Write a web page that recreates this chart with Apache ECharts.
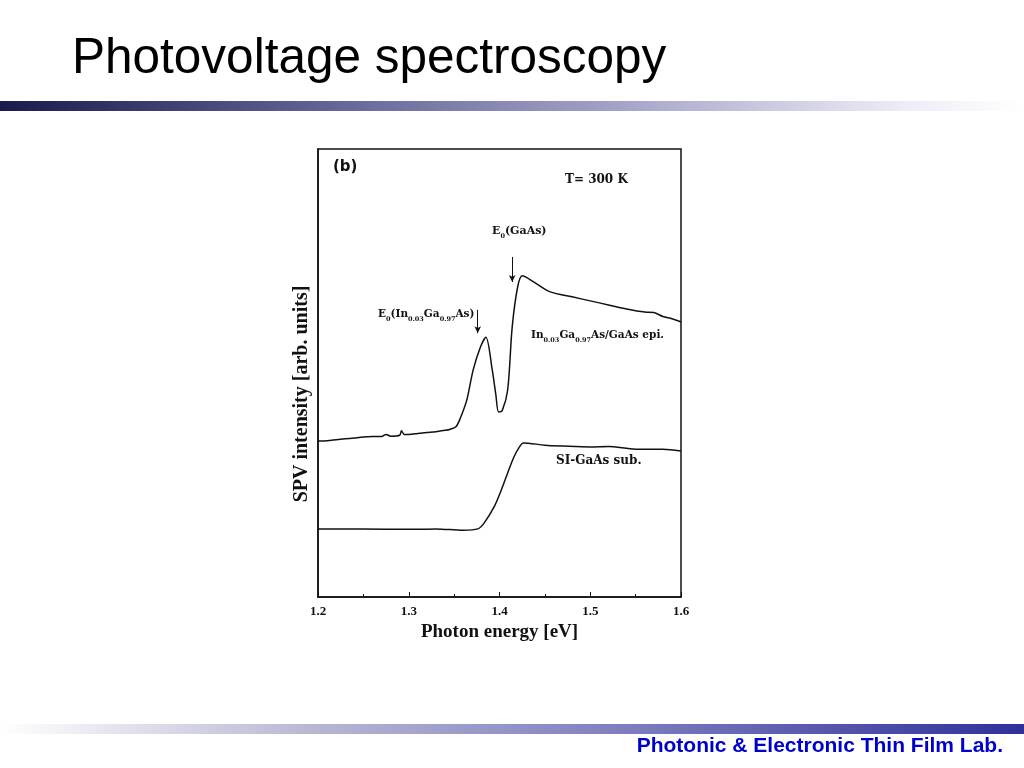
<!DOCTYPE html>
<html>
<head>
<meta charset="utf-8">
<script src="https://cdn.jsdelivr.net/npm/echarts@6/dist/echarts.min.js"></script>
<style>
  html, body { margin: 0; padding: 0; background: #fff; }
  #chart { width: 1024px; height: 768px; }
</style>
</head>
<body>
<div id="chart"></div>
<script>
// photon energy (eV) and SPV intensity (arb. units)
const epiEnergy = [1.200,1.210,1.220,1.230,1.240,1.250,1.260,1.270,1.275,1.280,1.290,1.292,1.295,1.300,1.310,1.320,1.330,1.340,1.345,1.352,1.357,1.364,1.371,1.379,1.385,1.392,1.396,1.399,1.403,1.409,1.414,1.420,1.425,1.438,1.456,1.480,1.500,1.520,1.540,1.560,1.570,1.580,1.590,1.600]
const epiSpv    = [34.8,34.9,35.1,35.3,35.5,35.7,35.8,35.8,36.3,35.9,36.1,37.1,36.3,36.3,36.5,36.7,36.9,37.2,37.4,38.0,40.0,44.0,50.7,55.8,58.0,50.7,45.1,41.3,41.6,46.2,60.3,69.2,71.7,70.3,68.1,67.0,66.1,65.2,64.3,63.6,63.5,62.6,62.1,61.4]

const subEnergy = [1.200,1.250,1.300,1.330,1.360,1.376,1.383,1.394,1.402,1.409,1.416,1.422,1.426,1.450,1.470,1.500,1.520,1.550,1.580,1.600]
const subSpv    = [15.2,15.2,15.1,15.2,14.9,15.2,16.5,20.1,23.9,27.7,31.3,33.5,34.4,33.9,33.7,33.5,33.6,33.0,33.0,32.6]

const xTicks = [1.2, 1.3, 1.4, 1.5, 1.6]

const chart = echarts.init(document.getElementById('chart'))

const serif = 'Liberation Serif'
const labelFont = 'DejaVu Serif'
const zip = (xs, ys) => xs.map((x, i) => [x, ys[i]])

// subscripted labels, main text + small lowered part
const rich = (size) => ({
  m: { fontFamily: labelFont, fontWeight: 'bold', fontSize: size, lineHeight: 16, verticalAlign: 'middle', fill: '#111' },
  s: { fontFamily: labelFont, fontWeight: 'bold', fontSize: 6.5, lineHeight: 16, verticalAlign: 'bottom', fill: '#111' }
})

const option = {
  animation: false,
  backgroundColor: '#fff',
  grid: { left: 318, top: 149, right: 343, bottom: 171, show: true, borderColor: '#111', borderWidth: 1.5 },
  xAxis: {
    type: 'value', min: 1.2, max: 1.6, interval: 0.1,
    name: 'Photon energy [eV]', nameLocation: 'middle', nameGap: 26,
    nameTextStyle: { fontFamily: serif, fontWeight: 'bold', fontSize: 19, color: '#111' },
    axisLine: { lineStyle: { color: '#111', width: 1.5 } },
    axisTick: { inside: true, length: 5, lineStyle: { color: '#111' } },
    minorTick: { show: true, splitNumber: 2, length: 3, lineStyle: { color: '#111' } },
    splitLine: { show: false },
    axisLabel: {
      fontFamily: serif, fontWeight: 'bold', fontSize: 13, color: '#111', margin: 8,
      formatter: v => xTicks.find(t => Math.abs(t - v) < 1e-6).toFixed(1)
    }
  },
  yAxis: {
    type: 'value', min: 0, max: 100,
    axisLine: { lineStyle: { color: '#111', width: 1.5 } },
    axisTick: { show: false }, axisLabel: { show: false }, splitLine: { show: false }
  },
  series: [
    {
      name: 'epi', type: 'line', data: zip(epiEnergy, epiSpv), showSymbol: false, smooth: 0.3,
      lineStyle: { color: '#111', width: 1.5 },
      markLine: {
        silent: true, symbol: ['none', 'arrow'], symbolSize: [5, 7],
        lineStyle: { color: '#111', width: 1, type: 'solid' }, label: { show: false },
        data: [
          [{ coord: [1.414, 75.9] }, { coord: [1.414, 70.3] }],
          [{ coord: [1.376, 64.1] }, { coord: [1.376, 58.9] }]
        ]
      }
    },
    {
      name: 'sub', type: 'line', data: zip(subEnergy, subSpv), showSymbol: false, smooth: 0.3,
      lineStyle: { color: '#111', width: 1.5 }
    }
  ],
  graphic: [
    { type: 'rect', shape: { x: 0, y: 101, width: 1024, height: 10 }, style: { fill: new echarts.graphic.LinearGradient(0, 0, 1, 0, [
      { offset: 0, color: '#1a1a4c' }, { offset: 0.35, color: '#6a6a9c' }, { offset: 0.6, color: '#a2a2c8' }, { offset: 0.88, color: '#ececf6' }, { offset: 1, color: '#ffffff' }]) } },
    { type: 'rect', shape: { x: 0, y: 724, width: 1024, height: 10 }, style: { fill: new echarts.graphic.LinearGradient(0, 0, 1, 0, [
      { offset: 0, color: '#ffffff' }, { offset: 0.3, color: '#b8b8d4' }, { offset: 0.6, color: '#8080c0' }, { offset: 1, color: '#30309c' }]) } },
    { type: 'text', left: 72, top: 34, style: { text: 'Photovoltage spectroscopy', fontFamily: 'Liberation Sans', fontSize: 49.5, fill: '#000' } },
    { type: 'text', right: 21, top: 736, style: { text: 'Photonic & Electronic Thin Film Lab.', fontFamily: 'Liberation Sans', fontWeight: 'bold', fontSize: 21, fill: '#0000cc' } },
    { type: 'text', x: 302, y: 394, rotation: Math.PI / 2, style: { text: 'SPV intensity [arb. units]', fontFamily: serif, fontWeight: 'bold', fontSize: 20, fill: '#111', align: 'center', verticalAlign: 'middle' } },
    { type: 'text', left: 333, top: 160, style: { text: '(b)', fontFamily: 'DejaVu Sans', fontWeight: 'bold', fontSize: 15, fill: '#111' } },
    { type: 'text', left: 565, top: 174, style: { text: 'T= 300 K', fontFamily: labelFont, fontWeight: 'bold', fontSize: 12, fill: '#111' } },
    { type: 'text', left: 492, top: 226, style: { text: '{m|E}{s|0}{m|(GaAs)}', rich: rich(11) } },
    { type: 'text', left: 378, top: 309, style: { text: '{m|E}{s|0}{m|(In}{s|0.03}{m|Ga}{s|0.97}{m|As)}', rich: rich(10.5) } },
    { type: 'text', left: 531, top: 330, style: { text: '{m|In}{s|0.03}{m|Ga}{s|0.97}{m|As/GaAs epi.}', rich: rich(10.5) } },
    { type: 'text', left: 556, top: 455, style: { text: 'SI-GaAs sub.', fontFamily: labelFont, fontWeight: 'bold', fontSize: 12, fill: '#111' } }
  ]
}

chart.setOption(option)
</script>
</body>
</html>
